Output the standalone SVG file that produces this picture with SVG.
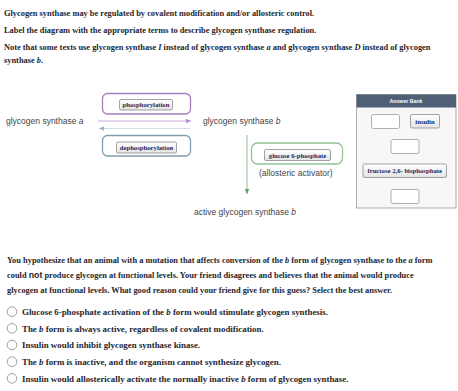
<svg xmlns="http://www.w3.org/2000/svg" width="458" height="391" viewBox="0 0 458 391">
<defs>
<style>
.t{font-family:"Liberation Serif","Times New Roman",serif;font-size:8.4px;font-weight:bold;fill:#1f1f2f}
.o{font-size:8.9px}
.s{font-family:"Liberation Sans",Arial,sans-serif;font-size:8.5px;fill:#444}
.btn{fill:url(#g);stroke:#8c8c8c;stroke-width:0.8}
.bt{font-family:"Liberation Serif","Times New Roman",serif;font-size:6.7px;fill:#1d2660;text-anchor:middle;font-weight:bold}
.slot{fill:#fff;stroke:#9a9a9a;stroke-width:0.8}
.rad{fill:#fff;stroke:#888;stroke-width:0.8}
</style>
<linearGradient id="g" x1="0" y1="0" x2="0" y2="1"><stop offset="0" stop-color="#ffffff"/><stop offset="1" stop-color="#e4e4e4"/></linearGradient>
<marker id="ap" markerWidth="6" markerHeight="6" refX="5" refY="3" orient="auto" markerUnits="userSpaceOnUse"><path d="M0,0.8 L5,3 L0,5.2z" fill="#b48fcc"/></marker>
<marker id="ab" markerWidth="6" markerHeight="6" refX="5" refY="3" orient="auto" markerUnits="userSpaceOnUse"><path d="M0,0.8 L5,3 L0,5.2z" fill="#9fb3c0"/></marker>
<marker id="ag" markerWidth="6" markerHeight="6" refX="5" refY="3" orient="auto" markerUnits="userSpaceOnUse"><path d="M0,0.8 L5,3 L0,5.2z" fill="#5f9a66"/></marker>
</defs>
<rect width="458" height="391" fill="#fff"/>
<g id="intro">
<text class="t" x="4" y="16">Glycogen synthase may be regulated by covalent modification and/or allosteric control.</text>
<text class="t" x="4" y="33">Label the diagram with the appropriate terms to describe glycogen synthase regulation.</text>
<text class="t" x="4" y="50">Note that some texts use glycogen synthase <tspan font-style="italic">I</tspan> instead of glycogen synthase <tspan font-style="italic">a</tspan> and glycogen synthase <tspan font-style="italic">D</tspan> instead of glycogen</text>
<text class="t" x="4" y="63">synthase <tspan font-style="italic">b</tspan>.</text>
</g>
<g id="connectors">
<line x1="98" y1="121" x2="191" y2="121" stroke="#c9aadb" stroke-width="1" marker-end="url(#ap)"/>
<line x1="190" y1="128.5" x2="99" y2="128.5" stroke="#d3dfe7" stroke-width="1" marker-end="url(#ab)"/>
<line x1="247" y1="135" x2="247" y2="194" stroke="#8fbb92" stroke-width="1" marker-end="url(#ag)"/>
</g>
<g id="node-gsa"><text class="s" x="6" y="124">glycogen synthase <tspan font-style="italic">a</tspan></text></g>
<g id="node-gsb"><text class="s" x="203" y="124">glycogen synthase <tspan font-style="italic">b</tspan></text></g>
<g id="node-active"><text class="s" x="194" y="215">active glycogen synthase <tspan font-style="italic">b</tspan></text></g>
<g id="node-phos">
<rect x="102.5" y="93.5" width="88" height="20.5" rx="5" fill="#fff" stroke="#a57fbf" stroke-width="1.3"/>
<rect x="119.5" y="99.5" width="53" height="10.5" rx="1.5" class="btn"/>
<text class="bt" x="146" y="107.3">phosphorylation</text>
</g>
<g id="node-dephos">
<rect x="102.5" y="135.5" width="88" height="20.5" rx="5" fill="#fff" stroke="#7f9eae" stroke-width="1.3"/>
<rect x="116.5" y="142" width="60" height="11" rx="1.5" class="btn"/>
<text class="bt" x="146.5" y="150">dephosphorylation</text>
</g>
<g id="node-g6p">
<rect x="251.5" y="143" width="91" height="21" rx="6" fill="#fff" stroke="#93c193" stroke-width="1.3"/>
<rect x="264.5" y="149.5" width="66" height="11" rx="1.5" class="btn"/>
<text class="bt" x="297.5" y="157.5">glucose 6-phosphate</text>
<text class="s" x="259" y="176">(allosteric activator)</text>
</g>
<g id="answer-bank">
<rect x="356.5" y="94.5" width="99.5" height="113.5" fill="#f7f7f7" stroke="#9a9a9a" stroke-width="0.8"/>
<rect x="356.5" y="94.5" width="99.5" height="13" fill="#4f5f75"/>
<text x="406" y="103.3" text-anchor="middle" font-family="Liberation Sans,Arial,sans-serif" font-size="5.2" font-weight="bold" fill="#fff">Answer Bank</text>
<rect x="371.5" y="114.5" width="28" height="14" rx="2" class="slot"/>
<rect x="410.5" y="114.5" width="29" height="13.5" rx="1.5" class="btn"/>
<text class="bt" x="425" y="123.6">insulin</text>
<rect x="391" y="139.5" width="28" height="14" rx="2" class="slot"/>
<rect x="363" y="164" width="83.5" height="13.5" rx="1.5" class="btn"/>
<text class="bt" x="404.7" y="173.2">fructose 2,6- bisphosphate</text>
<rect x="391" y="189.5" width="28" height="14" rx="2" class="slot"/>
</g>
<g id="question">
<text class="t" x="7" y="263">You hypothesize that an animal with a mutation that affects conversion of the <tspan font-style="italic">b</tspan> form of glycogen synthase to the <tspan font-style="italic">a</tspan> form</text>
<text class="t" x="7" y="278">could <tspan font-family="Liberation Sans,Arial,sans-serif" font-weight="bold" font-size="8.8">not</tspan> produce glycogen at functional levels. Your friend disagrees and believes that the animal would produce</text>
<text class="t" x="7" y="293">glycogen at functional levels. What good reason could your friend give for this guess? Select the best answer.</text>
</g>
<g id="options">
<circle class="rad" cx="12" cy="311.7" r="4.8"/>
<text class="t o" x="22" y="315">Glucose 6-phosphate activation of the <tspan font-style="italic">b</tspan> form would stimulate glycogen synthesis.</text>
<circle class="rad" cx="12" cy="328.3" r="4.8"/>
<text class="t o" x="22" y="331.5">The <tspan font-style="italic">b</tspan> form is always active, regardless of covalent modification.</text>
<circle class="rad" cx="12" cy="345" r="4.8"/>
<text class="t o" x="22" y="348">Insulin would inhibit glycogen synthase kinase.</text>
<circle class="rad" cx="12" cy="361.7" r="4.8"/>
<text class="t o" x="22" y="365">The <tspan font-style="italic">b</tspan> form is inactive, and the organism cannot synthesize glycogen.</text>
<circle class="rad" cx="12" cy="378.3" r="4.8"/>
<text class="t o" x="22" y="381.5">Insulin would allosterically activate the normally inactive <tspan font-style="italic">b</tspan> form of glycogen synthase.</text>
</g>
</svg>
